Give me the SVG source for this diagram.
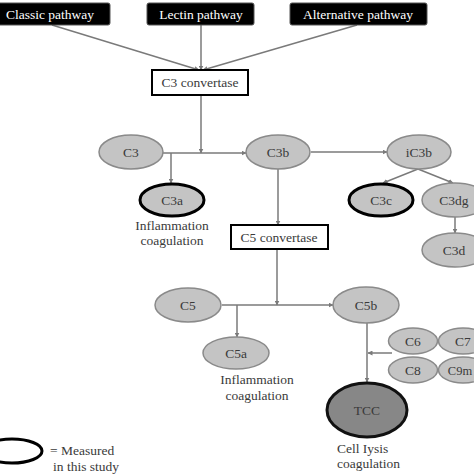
<svg xmlns="http://www.w3.org/2000/svg" width="474" height="474" viewBox="0 0 474 474" font-family="Liberation Serif, DejaVu Serif, serif">
<style>
text{font-family:'Liberation Serif','DejaVu Serif','Times New Roman',serif;font-size:13.5px;fill:#3a3a3a;}
.w{fill:#ffffff;}
.c{text-anchor:middle;}
.box{fill:#000;stroke:#555;stroke-width:1;}
.conv{fill:#fff;stroke:#000;stroke-width:2;}
.el{fill:#c4c4c4;stroke:#8a8a8a;stroke-width:1.5;}
.m{fill:#c4c4c4;stroke:#000;stroke-width:3;}
.lna{stroke:#7a7a7a;stroke-width:1.5;fill:none;marker-end:url(#ah);}
</style>
<defs>
<marker id="ah" viewBox="0 0 10 10" refX="9" refY="5" markerWidth="5" markerHeight="5" markerUnits="userSpaceOnUse" orient="auto">
<path d="M0,0 L10,5 L0,10 z" fill="#7a7a7a"/>
</marker>
</defs>
<g id="connectors">
<line class="lna" x1="52" y1="25" x2="199" y2="70"/>
<line class="lna" x1="201" y1="25" x2="201" y2="70"/>
<line class="lna" x1="357" y1="25" x2="203" y2="70"/>
<line class="lna" x1="201" y1="95" x2="201" y2="153"/>
<line class="lna" x1="163" y1="153" x2="246" y2="153"/>
<line class="lna" x1="171" y1="153" x2="171" y2="183"/>
<line class="lna" x1="311" y1="152" x2="387" y2="152"/>
<line class="lna" x1="418" y1="169" x2="383" y2="183"/>
<line class="lna" x1="418" y1="169" x2="453" y2="183"/>
<line class="lna" x1="455" y1="217" x2="455" y2="233"/>
<line class="lna" x1="278" y1="169" x2="278" y2="225"/>
<line class="lna" x1="277" y1="249" x2="277" y2="305"/>
<line class="lna" x1="222" y1="305" x2="333" y2="305"/>
<line class="lna" x1="237" y1="305" x2="237" y2="337"/>
<line class="lna" x1="367" y1="323" x2="367" y2="382"/>
<line class="lna" x1="392" y1="353" x2="368" y2="353"/>
</g>
<g id="classic"><rect class="box" x="-3" y="3" width="113" height="22" rx="2"/><text class="w c" x="50" y="19">Classic pathway</text></g>
<g id="lectin"><rect class="box" x="147" y="3" width="107" height="22" rx="2"/><text class="w c" x="201" y="19">Lectin pathway</text></g>
<g id="alternative"><rect class="box" x="290" y="3" width="137" height="22" rx="2"/><text class="w c" x="358" y="19">Alternative pathway</text></g>
<g id="c3conv"><rect class="conv" x="152" y="70" width="96" height="25"/><text class="c" x="200" y="87">C3 convertase</text></g>
<g id="c3"><ellipse class="el" cx="131" cy="152" rx="32" ry="17"/><text class="c" x="131" y="157">C3</text></g>
<g id="c3b"><ellipse class="el" cx="278" cy="152" rx="32" ry="17"/><text class="c" x="278" y="157">C3b</text></g>
<g id="ic3b"><ellipse class="el" cx="419" cy="152" rx="32" ry="17"/><text class="c" x="419" y="157">iC3b</text></g>
<g id="c3a"><ellipse class="m" cx="172" cy="200" rx="32" ry="16"/><text class="c" x="172" y="205">C3a</text>
<text class="c" x="172" y="230">Inflammation</text><text class="c" x="172" y="245">coagulation</text></g>
<g id="c3c"><ellipse class="m" cx="381" cy="200" rx="32" ry="16"/><text class="c" x="381" y="205">C3c</text></g>
<g id="c3dg"><ellipse class="el" cx="455" cy="200" rx="33" ry="17"/><text class="c" x="454" y="205">C3dg</text></g>
<g id="c3d"><ellipse class="el" cx="455" cy="250" rx="33" ry="17"/><text class="c" x="454" y="255">C3d</text></g>
<g id="c5conv"><rect class="conv" x="231" y="225" width="97" height="24"/><text class="c" x="279" y="242">C5 convertase</text></g>
<g id="c5"><ellipse class="el" cx="188" cy="305" rx="33" ry="17"/><text class="c" x="188" y="310">C5</text></g>
<g id="c5b"><ellipse class="el" cx="366" cy="305" rx="33" ry="18"/><text class="c" x="366" y="310">C5b</text></g>
<g id="c5a"><ellipse class="el" cx="236" cy="353" rx="33" ry="16"/><text class="c" x="236" y="358">C5a</text>
<text class="c" x="257" y="384">Inflammation</text><text class="c" x="257" y="400">coagulation</text></g>
<g id="c6"><ellipse class="el" cx="413" cy="341" rx="24.5" ry="13"/><text class="c" x="413" y="346">C6</text></g>
<g id="c7"><ellipse class="el" cx="463" cy="341" rx="24.5" ry="13"/><text class="c" x="463" y="346">C7</text></g>
<g id="c8"><ellipse class="el" cx="413" cy="370" rx="24.5" ry="13"/><text class="c" x="413" y="375">C8</text></g>
<g id="c9m"><ellipse class="el" cx="463" cy="370" rx="24.5" ry="13"/><text class="c" x="460" y="375" style="font-size:12.5px">C9m</text></g>
<g id="tcc"><ellipse cx="367" cy="410" rx="40" ry="27" fill="#878787" stroke="#111" stroke-width="3"/><text class="c" x="367" y="415">TCC</text>
<text x="337" y="453">Cell Iysis</text><text x="337" y="468">coagulation</text></g>
<g id="legend"><ellipse cx="12" cy="451" rx="30" ry="12" fill="#fff" stroke="#000" stroke-width="3"/>
<text x="50" y="455">= Measured</text><text x="53" y="471">in this study</text></g>
</svg>
